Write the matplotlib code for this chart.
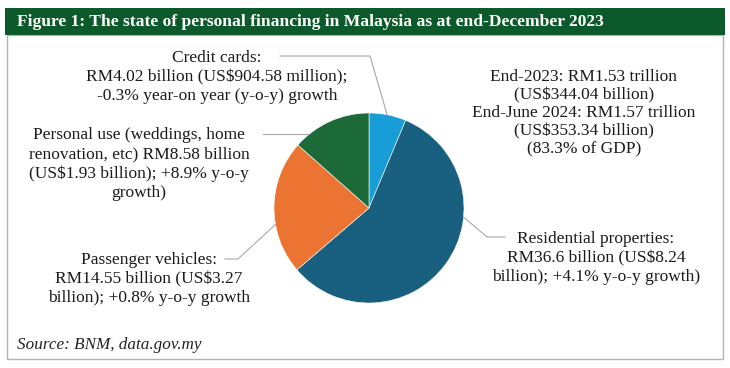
import numpy as np
import matplotlib.pyplot as plt
from matplotlib.patches import Rectangle

# financing by purpose, RM billion (clockwise from 12 o'clock)
segments = ['Credit cards', 'Residential properties', 'Passenger vehicles', 'Personal use']
values = [4.02, 36.6, 14.55, 8.58]
colors = ['#189dd8', '#185f80', '#ec7433', '#1d6a39']

title = 'Figure 1: The state of personal financing in Malaysia as at end-December 2023'
source = 'Source: BNM, data.gov.my'

labels = {
    'Credit cards': 'Credit cards:\nRM4.02 billion (US\\$904.58 million);\n-0.3% year-on year (y-o-y) growth',
    'Personal use': 'Personal use (weddings, home\nrenovation, etc) RM8.58 billion\n(US\\$1.93 billion); +8.9% y-o-y\ngrowth)',
    'Passenger vehicles': 'Passenger vehicles:\nRM14.55 billion (US\\$3.27\nbillion); +0.8% y-o-y growth',
    'Residential properties': 'Residential properties:\nRM36.6 billion (US\\$8.24\nbillion); +4.1% y-o-y growth)',
}
total_note = ('End-2023: RM1.53 trillion\n(US\\$344.04 billion)\nEnd-June 2024: RM1.57 trillion\n'
              '(US\\$353.34 billion)\n(83.3% of GDP)')

W, H = 730, 368
plt.rcParams['font.family'] = 'Liberation Serif'

fig = plt.figure(figsize=(W / 100, H / 100), dpi=100)
ax = fig.add_axes([0, 0, 1, 1])

def Y(y):  # pixel row (from top) -> data y
    return H - y

# frame + title banner
ax.add_patch(Rectangle((7, Y(359)), 716, 324, facecolor='white', edgecolor='#b4b4b4', lw=1))
ax.add_patch(Rectangle((5, Y(35)), 720, 27, facecolor='#0c5a2b', edgecolor='none'))
ax.text(17, Y(21.5), title, color='white', fontsize=12.6, fontweight='bold', va='center', ha='left')
ax.text(17, Y(345), source, fontsize=12.3, style='italic', va='center', ha='left', color='#222222')

# pie
cx, cy, r = 369, Y(208), 95
ax.pie(values, colors=colors, startangle=90, counterclock=False, center=(cx, cy), radius=r,
       wedgeprops=dict(edgecolor='white', linewidth=0.4), frame=True)
ax.set_xlim(0, W)
ax.set_ylim(0, H)
ax.set_aspect('auto')
ax.axis('off')

def edge(angle):
    a = np.deg2rad(angle)
    return cx + r * np.cos(a), cy + r * np.sin(a)

lc = dict(color='#a8a8a8', lw=0.8)
# leader lines
ex, ey = edge(79)
ax.plot([280, 370, ex], [Y(56), Y(56), ey], **lc)
ex, ey = edge(129)
ax.plot([263, ex], [ey, ey], **lc)
ex, ey = edge(190)
ax.plot([225, 238, ex], [Y(259), Y(259), ey], **lc)
ex, ey = edge(-5.5)
ax.plot([ex, 487, 505], [ey, Y(237), Y(237)], **lc)

tk = dict(fontsize=12.5, ha='center', va='center', color='#1a1a1a', linespacing=1.25)
ax.text(217, Y(77), labels['Credit cards'], **tk)
ax.text(139, Y(164), labels['Personal use'], **tk)
ax.text(149, Y(279), labels['Passenger vehicles'], **tk)
ax.text(596, Y(258), labels['Residential properties'], **tk)
ax.text(584, Y(113), total_note, fontsize=12.5, ha='center', va='center', color='#1a1a1a', linespacing=1.17)

fig.savefig('out.png', dpi=100)
